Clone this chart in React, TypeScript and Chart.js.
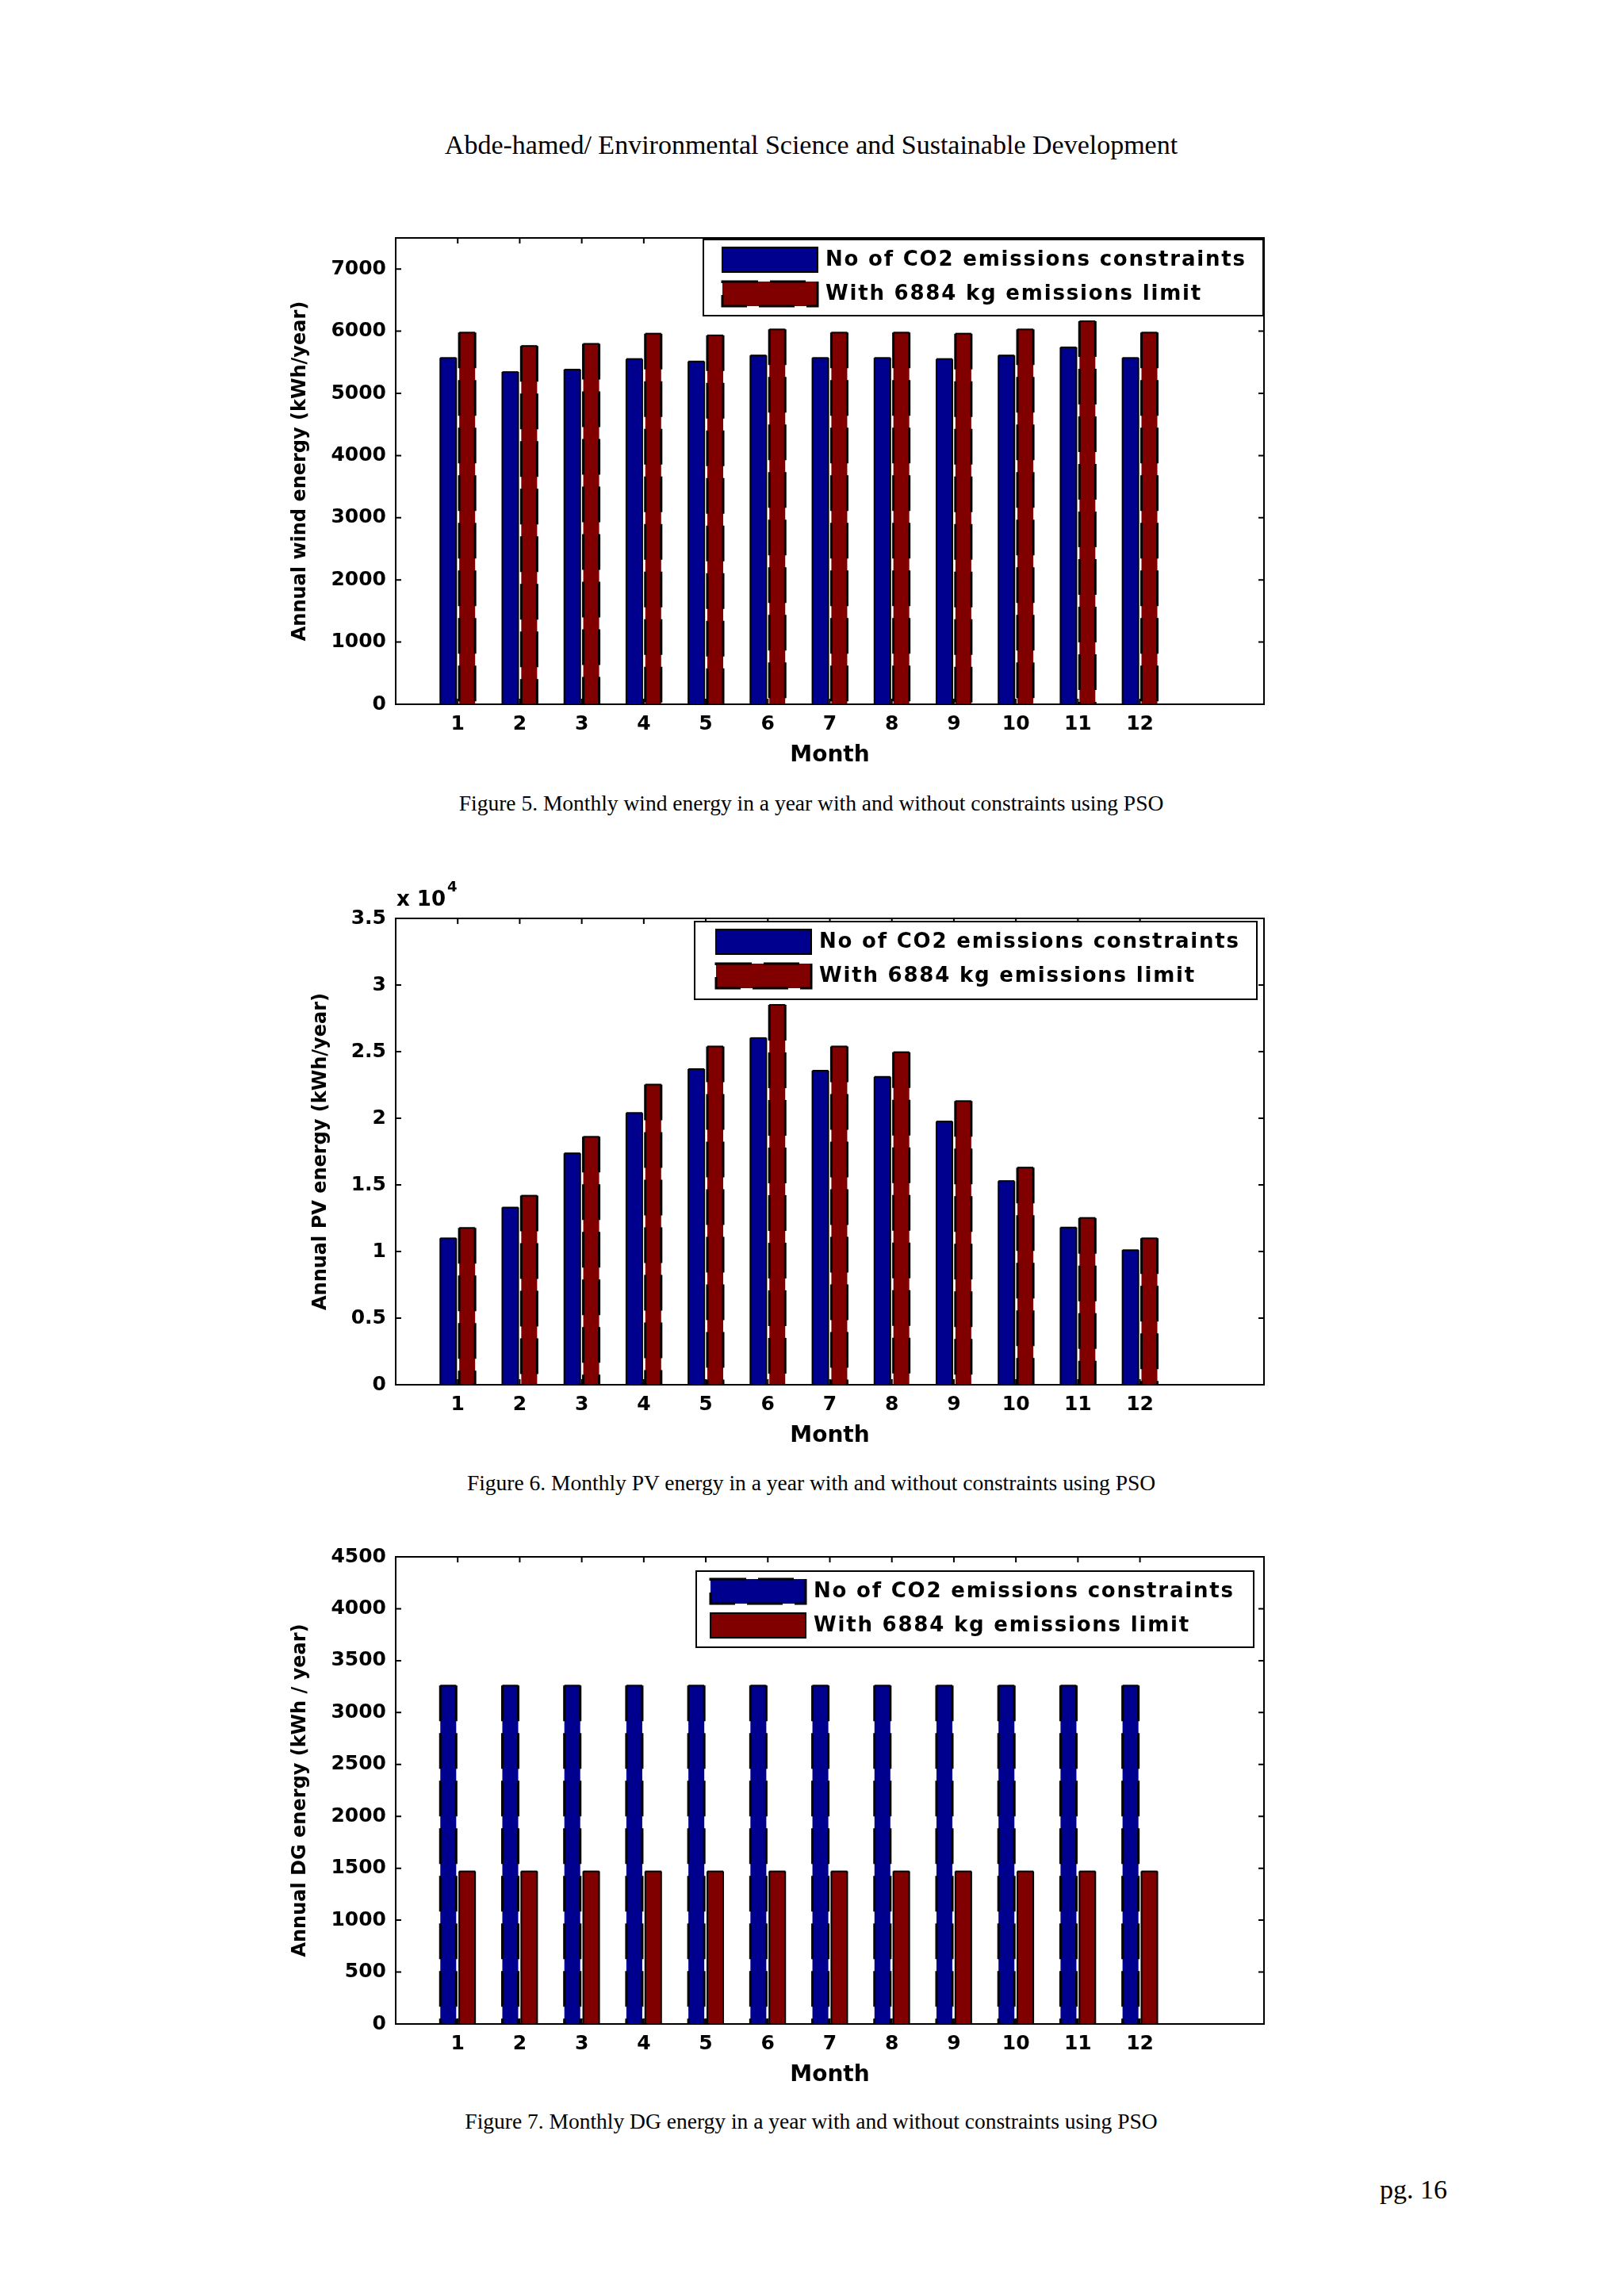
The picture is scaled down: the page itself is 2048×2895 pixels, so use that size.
import React, { useEffect, useRef } from 'react';
import { Chart, registerables } from 'chart.js';

Chart.register(...registerables);

// ---------- data ----------
const months = ['1', '2', '3', '4', '5', '6', '7', '8', '9', '10', '11', '12'];
const seriesNames = ['No of CO2 emissions constraints', 'With 6884 kg emissions limit'];
const seriesColors = ['#00008F', '#800000'];

const windNoLimit = [5570, 5343, 5383, 5553, 5513, 5610, 5570, 5570, 5553, 5610, 5740, 5570];
const windWithLimit = [5978, 5763, 5797, 5961, 5933, 6029, 5978, 5978, 5961, 6029, 6160, 5978];
const windTicks = [0, 1000, 2000, 3000, 4000, 5000, 6000, 7000];

const pvNoLimit = [10990, 13300, 17370, 20400, 23690, 26020, 23570, 23110, 19760, 15290, 11800, 10100];
const pvWithLimit = [11770, 14190, 18610, 22530, 25390, 28510, 25390, 24960, 21290, 16300, 12520, 10990];
const pvTicks = [0, 5000, 10000, 15000, 20000, 25000, 30000, 35000];

const dgNoLimit = [3260, 3260, 3260, 3260, 3260, 3260, 3260, 3260, 3260, 3260, 3260, 3260];
const dgWithLimit = [1470, 1470, 1470, 1470, 1470, 1470, 1470, 1470, 1470, 1470, 1470, 1470];
const dgTicks = [0, 500, 1000, 1500, 2000, 2500, 3000, 3500, 4000, 4500];

const headerText = 'Abde-hamed/ Environmental Science and Sustainable Development';
const captions = [
  'Figure 5. Monthly wind energy in a year with and without constraints using PSO',
  'Figure 6. Monthly PV energy in a year with and without constraints using PSO',
  'Figure 7. Monthly DG energy in a year with and without constraints using PSO',
];
const pageLabel = 'pg. 16';

// ---------- plugin: MATLAB-like frame, inward ticks, dashed bar edges, legend ----------
const DASH = [45, 15];

const matlabPlugin = {
  id: 'matlabFrame',
  afterDatasetsDraw(chart: any, _args: any, opts: any) {
    const ctx = chart.ctx as CanvasRenderingContext2D;
    const { left, right, top, bottom } = chart.chartArea;

    // bar outlines
    chart.data.datasets.forEach((ds: any, i: number) => {
      const meta = chart.getDatasetMeta(i);
      const dashed = opts.dashed[i];
      meta.data.forEach((el: any, j: number) => {
        if (ds.data[j] == null) return;
        const p = el.getProps(['x', 'y', 'base', 'width'], true);
        const l = p.x - p.width / 2;
        const r = p.x + p.width / 2;
        ctx.save();
        ctx.strokeStyle = '#000';
        ctx.lineWidth = dashed ? 3 : 2;
        ctx.setLineDash(dashed ? DASH : []);
        ctx.beginPath();
        ctx.moveTo(l, p.y);
        ctx.lineTo(l, p.base);
        ctx.moveTo(r, p.y);
        ctx.lineTo(r, p.base);
        ctx.stroke();
        ctx.setLineDash([]);
        ctx.lineWidth = 2;
        ctx.beginPath();
        ctx.moveTo(l, p.y);
        ctx.lineTo(r, p.y);
        ctx.stroke();
        ctx.restore();
      });
    });

    // frame
    ctx.save();
    ctx.strokeStyle = '#000';
    ctx.lineWidth = 2;
    ctx.strokeRect(left, top, right - left, bottom - top);

    // inward ticks
    const tl = 7;
    const ys = chart.scales.y;
    ys.ticks.forEach((t: any) => {
      const py = ys.getPixelForValue(t.value);
      ctx.beginPath();
      ctx.moveTo(left, py);
      ctx.lineTo(left + tl, py);
      ctx.moveTo(right, py);
      ctx.lineTo(right - tl, py);
      ctx.stroke();
    });
    const xs = chart.scales.x;
    xs.ticks.forEach((t: any) => {
      const lab = chart.data.labels[t.value];
      if (!lab) return;
      const px = xs.getPixelForValue(t.value);
      ctx.beginPath();
      ctx.moveTo(px, bottom);
      ctx.lineTo(px, bottom - tl);
      ctx.moveTo(px, top);
      ctx.lineTo(px, top + tl);
      ctx.stroke();
    });
    ctx.restore();

    // exponent label
    if (opts.exponent) {
      ctx.save();
      ctx.fillStyle = '#000';
      ctx.textBaseline = 'alphabetic';
      ctx.textAlign = 'left';
      ctx.font = 'bold 26px "DejaVu Sans"';
      const base = 'x 10';
      ctx.fillText(base, left + 1, top - 16);
      const w = ctx.measureText(base).width;
      ctx.font = 'bold 18px "DejaVu Sans"';
      ctx.fillText(opts.exponent, left + 3 + w, top - 34);
      ctx.restore();
    }

    // legend
    const lg = opts.legend;
    const bx = right - lg.rightInset - lg.width;
    const by = top + lg.topInset;
    ctx.save();
    ctx.fillStyle = '#fff';
    ctx.fillRect(bx, by, lg.width, lg.height);
    ctx.strokeStyle = '#000';
    ctx.lineWidth = 2;
    ctx.strokeRect(bx, by, lg.width, lg.height);
    const rows = [10, 53];
    chart.data.datasets.forEach((ds: any, i: number) => {
      const sx = bx + lg.swatchX;
      const sy = by + rows[i];
      const sw = 120;
      const sh = 31;
      ctx.fillStyle = ds.backgroundColor;
      ctx.fillRect(sx, sy, sw, sh);
      ctx.strokeStyle = '#000';
      ctx.lineWidth = opts.dashed[i] ? 3 : 2;
      ctx.setLineDash(opts.dashed[i] ? DASH : []);
      ctx.strokeRect(sx, sy, sw, sh);
      ctx.setLineDash([]);
      ctx.fillStyle = '#000';
      ctx.font = 'bold 26px "DejaVu Sans"';
      (ctx as any).letterSpacing = '1.8px';
      ctx.textBaseline = 'middle';
      ctx.textAlign = 'left';
      ctx.fillText(ds.label, sx + sw + 10, sy + sh / 2 + 1);
      (ctx as any).letterSpacing = '0px';
    });
    ctx.restore();
  },
};

// ---------- chart panel ----------
type Spec = {
  left: number;
  top: number;
  width: number;
  height: number;
  padTop: number;
  yMax: number;
  yTicks: number[];
  divisor: number;
  yTitle: string;
  yTitlePad: number;
  noLimit: number[];
  withLimit: number[];
  dashed: boolean[];
  legend: { rightInset: number; topInset: number; width: number; height: number; swatchX: number };
  exponent?: string;
};

const tickFont = { family: 'DejaVu Sans', size: 25, weight: 'bold' as const };

function BarPanel({ spec }: { spec: Spec }) {
  const ref = useRef<HTMLCanvasElement>(null);
  useEffect(() => {
    if (!ref.current) return;
    const labels = ['', ...months, '', ''];
    const pad = (arr: number[]) => [null, ...arr, null, null];
    const chart = new Chart(ref.current, {
      type: 'bar',
      data: {
        labels,
        datasets: [
          {
            label: seriesNames[0],
            data: pad(spec.noLimit),
            backgroundColor: seriesColors[0],
            borderWidth: 0,
            categoryPercentage: 0.61,
            barPercentage: 0.84,
          },
          {
            label: seriesNames[1],
            data: pad(spec.withLimit),
            backgroundColor: seriesColors[1],
            borderWidth: 0,
            categoryPercentage: 0.61,
            barPercentage: 0.84,
          },
        ],
      } as any,
      options: {
        responsive: false,
        animation: false,
        devicePixelRatio: 1,
        layout: { padding: { top: spec.padTop, right: 16, left: 0, bottom: 0 } },
        plugins: {
          legend: { display: false },
          tooltip: { enabled: false },
          matlabFrame: { dashed: spec.dashed, legend: spec.legend, exponent: spec.exponent },
        } as any,
        scales: {
          x: {
            type: 'category',
            offset: false,
            grid: { display: false, drawTicks: false },
            border: { display: false },
            ticks: { autoSkip: false, maxRotation: 0, minRotation: 0, color: '#000', padding: 10, font: tickFont },
            title: {
              display: true,
              text: 'Month',
              color: '#000',
              font: { family: 'DejaVu Sans', size: 28, weight: 'bold' },
              padding: { top: 0, bottom: 20 },
            },
            afterFit: (s: any) => {
              s.height = 102;
            },
          },
          y: {
            type: 'linear',
            min: 0,
            max: spec.yMax,
            grid: { display: false, drawTicks: false },
            border: { display: false },
            afterBuildTicks: (s: any) => {
              s.ticks = spec.yTicks.map((v) => ({ value: v }));
            },
            ticks: {
              color: '#000',
              padding: 12,
              font: tickFont,
              callback: (v: any) => String(Number(v) / spec.divisor),
            },
            title: {
              display: true,
              text: spec.yTitle,
              color: '#000',
              font: { family: 'DejaVu Sans', size: 24, weight: 'bold' },
              padding: { top: spec.yTitlePad, bottom: 0 },
            },
            afterFit: (s: any) => {
              s.width = 159;
            },
          },
        } as any,
      },
      plugins: [matlabPlugin],
    });
    return () => chart.destroy();
  }, []);
  return (
    <canvas
      ref={ref}
      width={spec.width}
      height={spec.height}
      style={{ position: 'absolute', left: spec.left, top: spec.top, width: spec.width, height: spec.height }}
    />
  );
}

const windSpec: Spec = {
  left: 340,
  top: 250,
  width: 1270,
  height: 740,
  padTop: 50,
  yMax: 7500,
  yTicks: windTicks,
  divisor: 1,
  yTitle: 'Annual wind energy (kWh/year)',
  yTitlePad: 24,
  noLimit: windNoLimit,
  withLimit: windWithLimit,
  dashed: [false, true],
  legend: { rightInset: 1, topInset: 2, width: 706, height: 96, swatchX: 24 },
};

const pvSpec: Spec = {
  left: 340,
  top: 1090,
  width: 1270,
  height: 758,
  padTop: 68,
  yMax: 35000,
  yTicks: pvTicks,
  divisor: 10000,
  yTitle: 'Annual PV energy (kWh/year)',
  yTitlePad: 50,
  noLimit: pvNoLimit,
  withLimit: pvWithLimit,
  dashed: [false, true],
  legend: { rightInset: 9, topInset: 4, width: 709, height: 98, swatchX: 27 },
  exponent: '4',
};

const dgSpec: Spec = {
  left: 340,
  top: 1910,
  width: 1270,
  height: 744,
  padTop: 53,
  yMax: 4500,
  yTicks: dgTicks,
  divisor: 1,
  yTitle: 'Annual DG energy (kWh / year)',
  yTitlePad: 24,
  noLimit: dgNoLimit,
  withLimit: dgWithLimit,
  dashed: [true, false],
  legend: { rightInset: 13, topInset: 18, width: 703, height: 96, swatchX: 18 },
};

const centered = (top: number, size: number): React.CSSProperties => ({
  position: 'absolute',
  left: 0,
  top,
  width: 2046,
  textAlign: 'center',
  fontSize: size,
  lineHeight: `${size}px`,
  whiteSpace: 'nowrap',
});

export default function App() {
  return (
    <div
      style={{
        position: 'absolute',
        left: 0,
        top: 0,
        width: 2048,
        height: 2895,
        background: '#fff',
        color: '#000',
        fontFamily: '"Liberation Serif", "Times New Roman", serif',
        overflow: 'hidden',
      }}
    >
      <div style={centered(166, 34)}>{headerText}</div>
      <BarPanel spec={windSpec} />
      <div style={centered(999, 27.5)}>{captions[0]}</div>
      <BarPanel spec={pvSpec} />
      <div style={centered(1856, 27.5)}>{captions[1]}</div>
      <BarPanel spec={dgSpec} />
      <div style={centered(2661, 27.5)}>{captions[2]}</div>
      <div style={{ position: 'absolute', left: 1740, top: 2744, fontSize: 34, lineHeight: '34px', whiteSpace: 'nowrap' }}>
        {pageLabel}
      </div>
    </div>
  );
}
